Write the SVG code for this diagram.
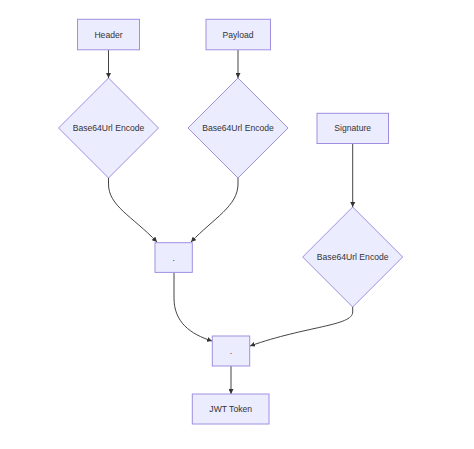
<svg xmlns="http://www.w3.org/2000/svg" width="474" height="449" viewBox="0 0 474 449">
<style>
.n{fill:#ECECFF;stroke:#a08fe0;stroke-width:1}
.t{font-family:"Liberation Sans",Arial,sans-serif;font-size:8.6px;fill:#333;text-anchor:middle;dominant-baseline:central}
.e{fill:none;stroke:#444;stroke-width:1}
</style>
<defs>
<marker id="a" viewBox="0 0 10 10" refX="10" refY="5" markerWidth="5" markerHeight="5" orient="auto" markerUnits="userSpaceOnUse">
<path d="M0,0 L10,5 L0,10 z" fill="#333"/>
</marker>
</defs>
<rect width="474" height="449" fill="#fff"/>
<g id="edges">
<path class="e" d="M108.5,50 L108.5,78" marker-end="url(#a)"/>
<path class="e" d="M238,50 L238,78" marker-end="url(#a)"/>
<path class="e" d="M352.7,143.5 L352.7,207" marker-end="url(#a)"/>
<path class="e" d="M108.5,178 L108.5,184 C108.5,206 132,216 157,242" marker-end="url(#a)"/>
<path class="e" d="M238,178 L238,184 C238,206 214,218 191,242" marker-end="url(#a)"/>
<path class="e" d="M174,272.5 L174,298 C174,322 190,334 212,341" marker-end="url(#a)"/>
<path class="e" d="M352.7,307 L352.7,312 C352.7,326 306,326 250,346" marker-end="url(#a)"/>
<path class="e" d="M231,366 L231,394" marker-end="url(#a)"/>
</g>
<g id="header"><rect class="n" x="77.5" y="19.3" width="62" height="30.5"/><text class="t" x="108.5" y="34.5">Header</text></g>
<g id="payload"><rect class="n" x="206" y="19.3" width="64.5" height="30.5"/><text class="t" x="238" y="34.5">Payload</text></g>
<g id="signature"><rect class="n" x="317" y="113.3" width="71.5" height="30.2"/><text class="t" x="352.7" y="128.4">Signature</text></g>
<g id="enc1"><polygon class="n" points="108.5,78 158.5,128 108.5,178 58.5,128"/><text class="t" x="108.5" y="128">Base64Url Encode</text></g>
<g id="enc2"><polygon class="n" points="238,78 288,128 238,178 188,128"/><text class="t" x="238" y="128">Base64Url Encode</text></g>
<g id="enc3"><polygon class="n" points="352.7,207 402.7,257 352.7,307 302.7,257"/><text class="t" x="352.7" y="257">Base64Url Encode</text></g>
<g id="dot1"><rect class="n" x="155" y="242.7" width="37.3" height="29.7"/><text class="t" x="173.7" y="257.5">.</text></g>
<g id="dot2"><rect class="n" x="212.3" y="336" width="37.4" height="30"/><text class="t" x="231" y="351">.</text></g>
<g id="jwt"><rect class="n" x="192.3" y="394" width="76.7" height="30"/><text class="t" x="230.7" y="409">JWT Token</text></g>
</svg>
